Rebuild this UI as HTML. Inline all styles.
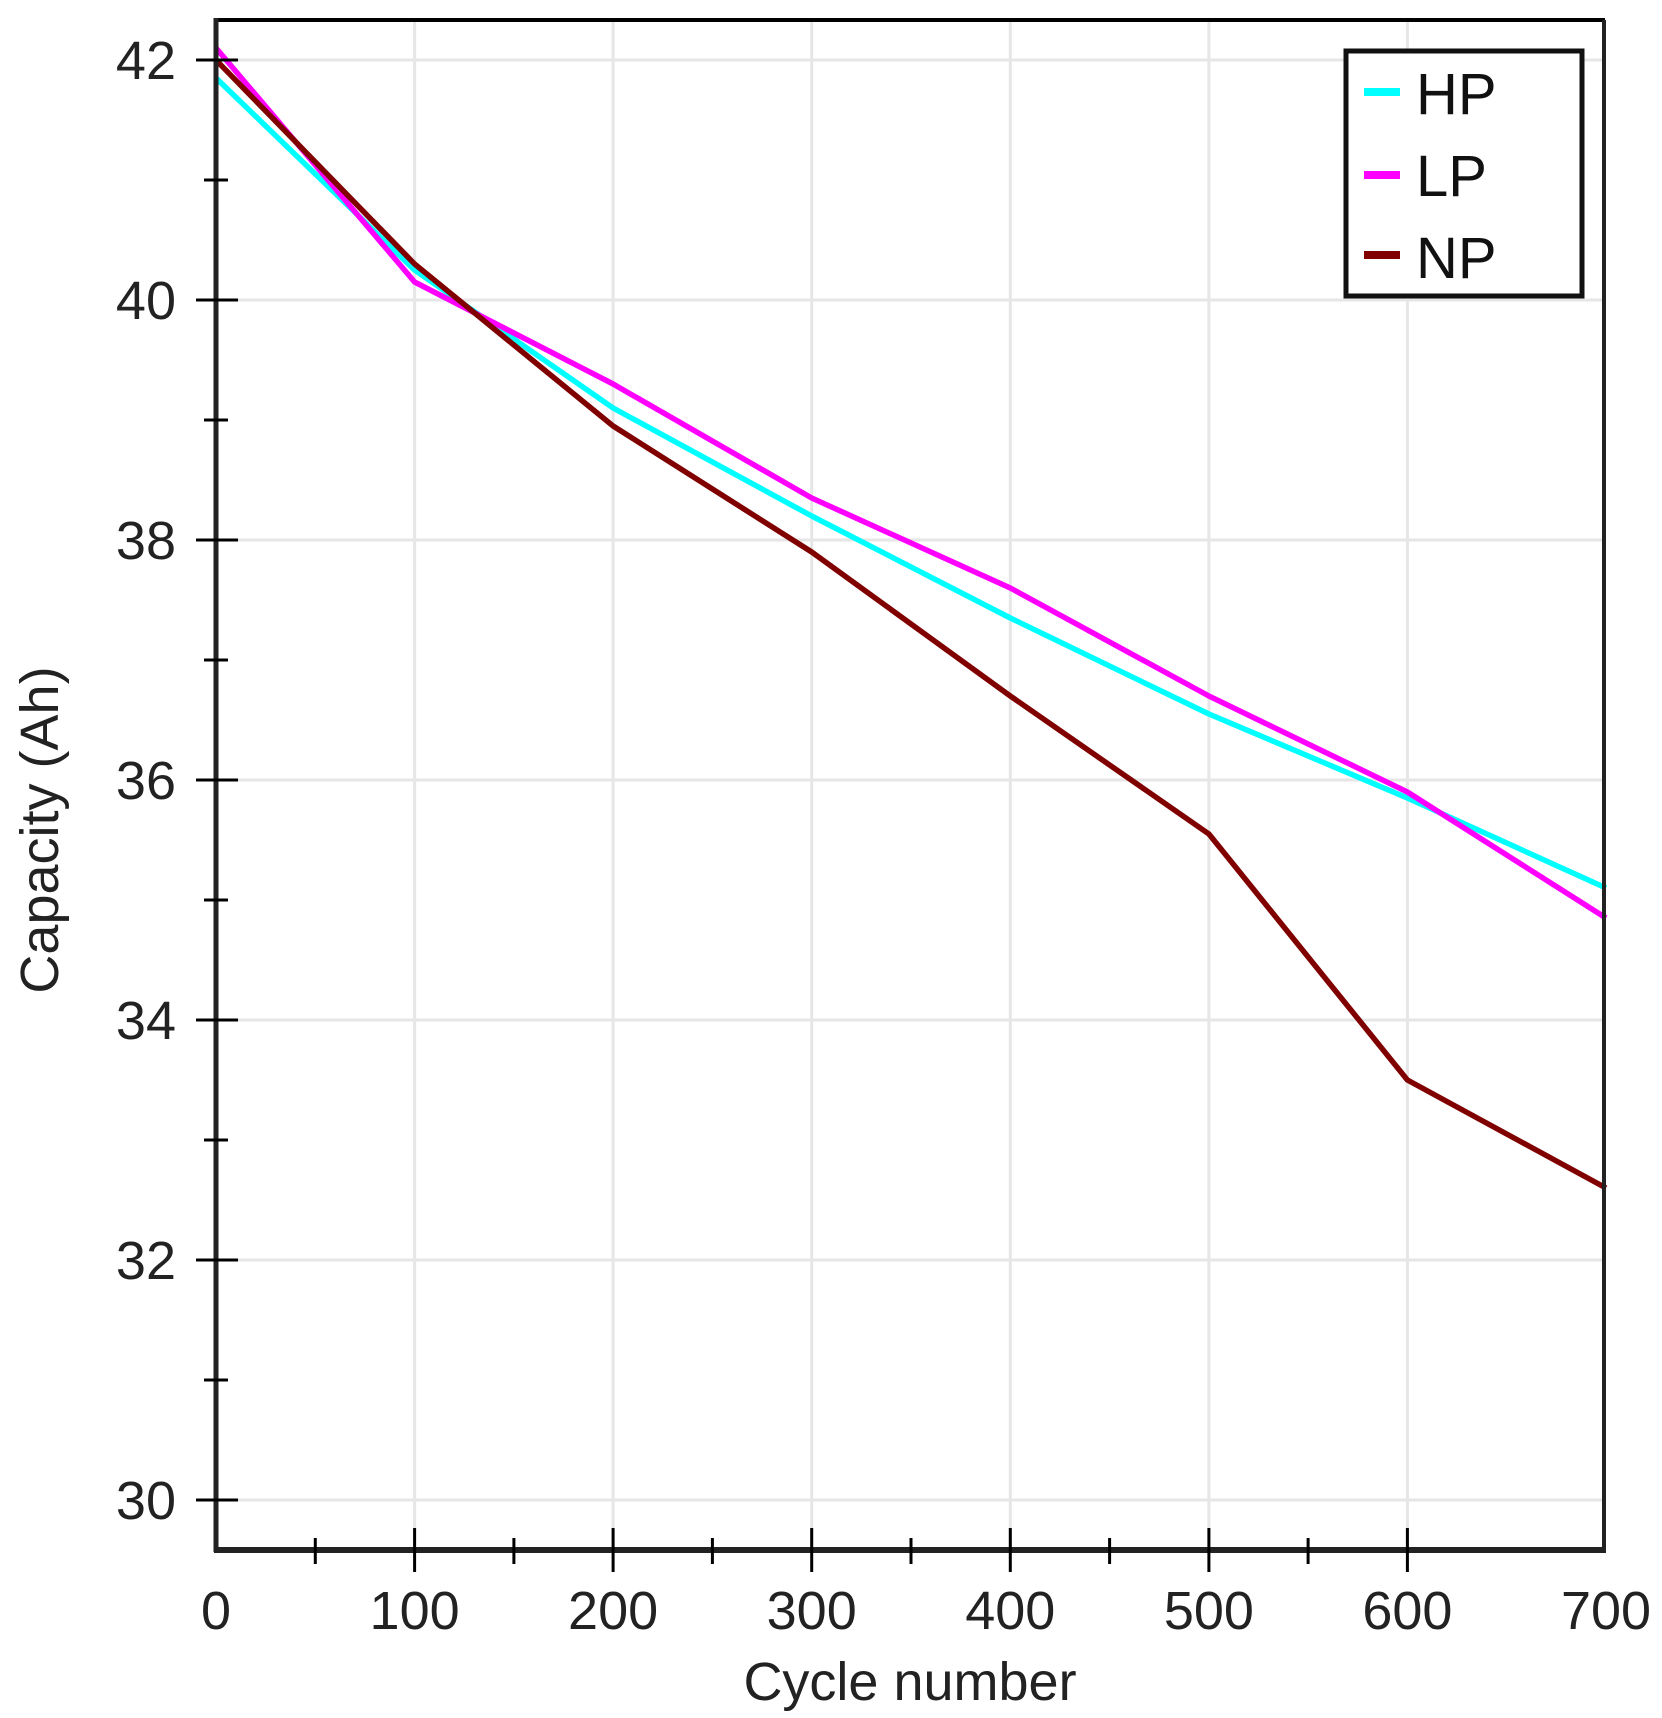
<!DOCTYPE html>
<html><head><meta charset="utf-8"><style>body{margin:0;background:#fff}svg{display:block}</style></head><body>
<svg width="1662" height="1718" viewBox="0 0 1662 1718" xmlns="http://www.w3.org/2000/svg" font-family="Liberation Sans, sans-serif">
<g stroke="#e6e6e6" stroke-width="3">
<line x1="216" y1="60" x2="1603" y2="60"/><line x1="216" y1="300" x2="1603" y2="300"/><line x1="216" y1="540" x2="1603" y2="540"/><line x1="216" y1="780" x2="1603" y2="780"/><line x1="216" y1="1020" x2="1603" y2="1020"/><line x1="216" y1="1260" x2="1603" y2="1260"/><line x1="216" y1="1500" x2="1603" y2="1500"/>
<line x1="414.6" y1="20" x2="414.6" y2="1550"/><line x1="613.1" y1="20" x2="613.1" y2="1550"/><line x1="811.7" y1="20" x2="811.7" y2="1550"/><line x1="1010.3" y1="20" x2="1010.3" y2="1550"/><line x1="1208.9" y1="20" x2="1208.9" y2="1550"/><line x1="1407.4" y1="20" x2="1407.4" y2="1550"/>
</g>
<g fill="none" stroke-width="5.5" stroke-linejoin="round">
<polyline stroke="#00ffff" points="216,78 414.6,270 613.1,408 811.7,516 1010.3,618 1208.9,714 1407.4,798 1606,888"/>
<polyline stroke="#ff00ff" points="216,48 414.6,282 613.1,384 811.7,498 1010.3,588 1208.9,696 1407.4,792 1606,918"/>
<polyline stroke="#800000" points="216,60 414.6,264 613.1,426 811.7,552 1010.3,696 1208.9,834 1407.4,1080 1606,1188"/>
</g>
<g stroke="#222" stroke-width="3">
<line x1="216" y1="20" x2="1605" y2="20" stroke="#000" stroke-width="4"/>
<line x1="1604" y1="20" x2="1604" y2="1552" stroke-width="4"/>
<line x1="216" y1="18" x2="216" y2="1552" stroke-width="5"/>
<line x1="214" y1="1550" x2="1606" y2="1550" stroke-width="6"/>
</g>
<g stroke="#000" stroke-width="3">
<line x1="196" y1="60" x2="238" y2="60"/><line x1="196" y1="300" x2="238" y2="300"/><line x1="196" y1="540" x2="238" y2="540"/><line x1="196" y1="780" x2="238" y2="780"/><line x1="196" y1="1020" x2="238" y2="1020"/><line x1="196" y1="1260" x2="238" y2="1260"/><line x1="196" y1="1500" x2="238" y2="1500"/>
<line x1="204" y1="180" x2="228" y2="180"/><line x1="204" y1="420" x2="228" y2="420"/><line x1="204" y1="660" x2="228" y2="660"/><line x1="204" y1="900" x2="228" y2="900"/><line x1="204" y1="1140" x2="228" y2="1140"/><line x1="204" y1="1380" x2="228" y2="1380"/>
<line x1="414.6" y1="1528" x2="414.6" y2="1572"/><line x1="613.1" y1="1528" x2="613.1" y2="1572"/><line x1="811.7" y1="1528" x2="811.7" y2="1572"/><line x1="1010.3" y1="1528" x2="1010.3" y2="1572"/><line x1="1208.9" y1="1528" x2="1208.9" y2="1572"/><line x1="1407.4" y1="1528" x2="1407.4" y2="1572"/>
<line x1="315.3" y1="1538" x2="315.3" y2="1564"/><line x1="513.9" y1="1538" x2="513.9" y2="1564"/><line x1="712.4" y1="1538" x2="712.4" y2="1564"/><line x1="911" y1="1538" x2="911" y2="1564"/><line x1="1109.6" y1="1538" x2="1109.6" y2="1564"/><line x1="1308.1" y1="1538" x2="1308.1" y2="1564"/>
</g>
<g font-size="54" fill="#222" text-anchor="end">
<text x="176" y="79">42</text><text x="176" y="319">40</text><text x="176" y="559">38</text><text x="176" y="799">36</text><text x="176" y="1039">34</text><text x="176" y="1279">32</text><text x="176" y="1519">30</text>
</g>
<g font-size="54" fill="#222" text-anchor="middle">
<text x="216" y="1629">0</text><text x="414.6" y="1629">100</text><text x="613.1" y="1629">200</text><text x="811.7" y="1629">300</text><text x="1010.3" y="1629">400</text><text x="1208.9" y="1629">500</text><text x="1407.4" y="1629">600</text><text x="1606" y="1629">700</text>
<text x="910" y="1700">Cycle number</text>
<text transform="translate(58,830) rotate(-90)">Capacity (Ah)</text>
</g>
<rect x="1346" y="51" width="236" height="245" fill="#fff" stroke="#111" stroke-width="5"/>
<g stroke-width="8"><line x1="1364" y1="92" x2="1400" y2="92" stroke="#00ffff"/><line x1="1364" y1="175" x2="1400" y2="175" stroke="#ff00ff"/><line x1="1364" y1="255" x2="1400" y2="255" stroke="#800000"/></g>
<g font-size="58" fill="#111"><text x="1416" y="114">HP</text><text x="1416" y="196">LP</text><text x="1416" y="278">NP</text></g>
</svg>
</body></html>
